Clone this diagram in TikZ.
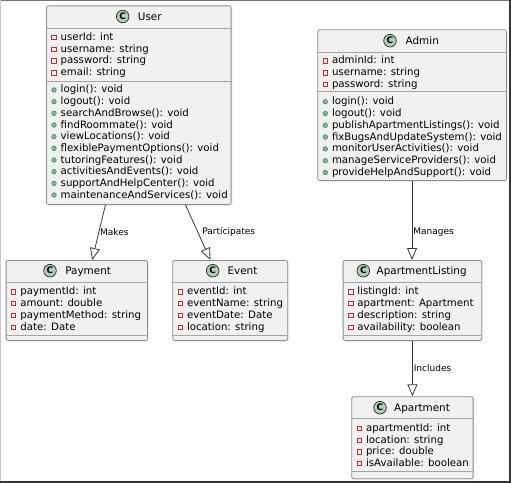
\documentclass[tikz,border=0pt]{standalone}
\usepackage{fontspec}
\setmainfont{DejaVu Sans}
\usetikzlibrary{arrows.meta,shadows}
\definecolor{boxfill}{HTML}{F1F1F1}
\definecolor{boxline}{HTML}{8C8C8C}
\definecolor{sepline}{HTML}{A4A4A4}
\definecolor{circfill}{HTML}{ADD1B2}
\definecolor{privred}{HTML}{C82930}
\definecolor{pubgreen}{HTML}{84BE84}
\definecolor{pubdark}{HTML}{038048}
\definecolor{linkcol}{HTML}{383838}
\begin{document}
\begin{tikzpicture}[x=1bp,y=-1bp,
  classbox/.style={draw=boxline,fill=boxfill,rounded corners=2bp,anchor=north west,inner sep=0pt,line width=0.8bp,
    drop shadow={shadow xshift=1.5bp,shadow yshift=-1.5bp,fill=black!12}},
  sep/.style={draw=sepline,line width=0.8bp},
  cicon/.style={circle,draw=black!85,fill=circfill,line width=0.7bp,minimum size=12.6bp,inner sep=0pt,
    font=\fontsize{9bp}{10bp}\selectfont\bfseries},
  title/.style={anchor=base west,inner sep=0pt,font=\fontsize{10.4bp}{12bp}\selectfont},
  member/.style={anchor=base west,inner sep=0pt,font=\fontsize{10.2bp}{12bp}\selectfont},
  privicon/.style={draw=privred,line width=0.7bp},
  pubicon/.style={draw=pubdark,fill=pubgreen,line width=0.4bp},
  link/.style={draw=linkcol,line width=0.8bp,-{Triangle[length=12bp,width=10bp,fill=white]}},
  lbl/.style={anchor=west,inner sep=1bp,text=black,font=\fontsize{9bp}{10bp}\selectfont}]
  \useasboundingbox (0,0) rectangle (511,483);
  % frame of the screenshot
  \fill[black!55] (0,0) rectangle (511,1);
  \fill[black!22] (0,0) rectangle (1.3,483);
  \fill[black!80] (508.5,0) rectangle (511,483);
  \fill[black!80] (0,481) rectangle (511,483);

  % User
  \node[classbox,minimum width=184.7bp,minimum height=198.5bp] (user) at (46,5.5) {};
  \node[cicon] (user-c) at (122.7,16.5) {C};
  \node[title] (user-t) at (137.7,20.7) {User};
  \draw[sep] (user.west |- 0,28.7) -- (user.east |- 0,28.7);
  \draw[sep] (user.west |- 0,81) -- (user.east |- 0,81);
  \foreach \t [count=\k from 0] in {{userId: int},{username: string},{password: string},{email: string}} {
    \draw[privicon] (54,{37.4+11.8*\k}) +(-2.2,-2.2) rectangle +(2.2,2.2);
    \node[member] (user-a\k) at (60.5,{40.4+11.8*\k}) {\t};
  }
  \foreach \t [count=\k from 0] in {{login(): void},{logout(): void},{searchAndBrowse(): void},{findRoommate(): void},
      {viewLocations(): void},{flexiblePaymentOptions(): void},{tutoringFeatures(): void},
      {activitiesAndEvents(): void},{supportAndHelpCenter(): void},{maintenanceAndServices(): void}} {
    \filldraw[pubicon] (54,{90+11.67*\k}) circle (2.3);
    \node[member] (user-m\k) at (60.5,{93+11.67*\k}) {\t};
  }

  % Admin
  \node[classbox,minimum width=188.7bp,minimum height=150.7bp] (admin) at (317.3,29.3) {};
  \node[cicon] (admin-c) at (390,40.7) {C};
  \node[title] (admin-t) at (405.5,44.4) {Admin};
  \draw[sep] (admin.west |- 0,52) -- (admin.east |- 0,52);
  \draw[sep] (admin.west |- 0,91.7) -- (admin.east |- 0,91.7);
  \foreach \t [count=\k from 0] in {{adminId: int},{username: string},{password: string}} {
    \draw[privicon] (325.3,{61+11.8*\k}) +(-2.2,-2.2) rectangle +(2.2,2.2);
    \node[member] (admin-a\k) at (331.8,{64+11.8*\k}) {\t};
  }
  \foreach \t [count=\k from 0] in {{login(): void},{logout(): void},{publishApartmentListings(): void},
      {fixBugsAndUpdateSystem(): void},{monitorUserActivities(): void},{manageServiceProviders(): void},
      {provideHelpAndSupport(): void}} {
    \filldraw[pubicon] (325.3,{101.7+11.8*\k}) circle (2.3);
    \node[member] (admin-m\k) at (331.8,{104.7+11.8*\k}) {\t};
  }

  % Payment
  \node[classbox,minimum width=141.3bp,minimum height=80bp] (payment) at (5.7,260) {};
  \node[cicon] (payment-c) at (50,270.7) {C};
  \node[title] (payment-t) at (65.2,274.8) {Payment};
  \draw[sep] (payment.west |- 0,282.3) -- (payment.east |- 0,282.3);
  \draw[sep] (payment.west |- 0,335.3) -- (payment.east |- 0,335.3);
  \foreach \t [count=\k from 0] in {{paymentId: int},{amount: double},{paymentMethod: string},{date: Date}} {
    \draw[privicon] (13.5,{291.7+11.8*\k}) +(-2.2,-2.2) rectangle +(2.2,2.2);
    \node[member] (payment-a\k) at (20.2,{294.7+11.8*\k}) {\t};
  }

  % Event
  \node[classbox,minimum width=115bp,minimum height=80bp] (event) at (172.3,260) {};
  \node[cicon] (event-c) at (212.7,270.7) {C};
  \node[title] (event-t) at (227.4,274.8) {Event};
  \draw[sep] (event.west |- 0,282.3) -- (event.east |- 0,282.3);
  \draw[sep] (event.west |- 0,335.3) -- (event.east |- 0,335.3);
  \foreach \t [count=\k from 0] in {{eventId: int},{eventName: string},{eventDate: Date},{location: string}} {
    \draw[privicon] (180.3,{291.7+11.8*\k}) +(-2.2,-2.2) rectangle +(2.2,2.2);
    \node[member] (event-a\k) at (186.8,{294.7+11.8*\k}) {\t};
  }

  % ApartmentListing
  \node[classbox,minimum width=138.6bp,minimum height=80bp] (listing) at (342.7,260) {};
  \node[cicon] (listing-c) at (363.3,270.7) {C};
  \node[title] (listing-t) at (376.5,274.8) {ApartmentListing};
  \draw[sep] (listing.west |- 0,282.3) -- (listing.east |- 0,282.3);
  \draw[sep] (listing.west |- 0,335.3) -- (listing.east |- 0,335.3);
  \foreach \t [count=\k from 0] in {{listingId: int},{apartment: Apartment},{description: string},{availability: boolean}} {
    \draw[privicon] (350.7,{291.7+11.8*\k}) +(-2.2,-2.2) rectangle +(2.2,2.2);
    \node[member] (listing-a\k) at (357.2,{294.7+11.8*\k}) {\t};
  }

  % Apartment
  \node[classbox,minimum width=121.4bp,minimum height=82bp] (apt) at (351.3,396.3) {};
  \node[cicon] (apt-c) at (380,407.7) {C};
  \node[title] (apt-t) at (394,411.7) {Apartment};
  \draw[sep] (apt.west |- 0,418.3) -- (apt.east |- 0,418.3);
  \draw[sep] (apt.west |- 0,471.3) -- (apt.east |- 0,471.3);
  \foreach \t [count=\k from 0] in {{apartmentId: int},{location: string},{price: double},{isAvailable: boolean}} {
    \draw[privicon] (359.3,{428.4+11.7*\k}) +(-2.2,-2.2) rectangle +(2.2,2.2);
    \node[member] (apt-a\k) at (365.8,{431.4+11.7*\k}) {\t};
  }

  % links
  \draw[link] ([xshift=-33.3bp]user.south) -- node[lbl] (makes) {Makes} ([xshift=15.4bp]payment.north);
  \draw[link] ([xshift=46.7bp]user.south) -- node[lbl,xshift=3bp] (part) {Participates} ([xshift=-19.8bp]event.north);
  \draw[link] (admin.south) -- node[lbl,pos=0.65] (manages) {Manages} (admin.south |- listing.north);
  \draw[link] (listing.south) -- node[lbl] (includes) {Includes} (listing.south |- apt.north);
\end{tikzpicture}
\end{document}
